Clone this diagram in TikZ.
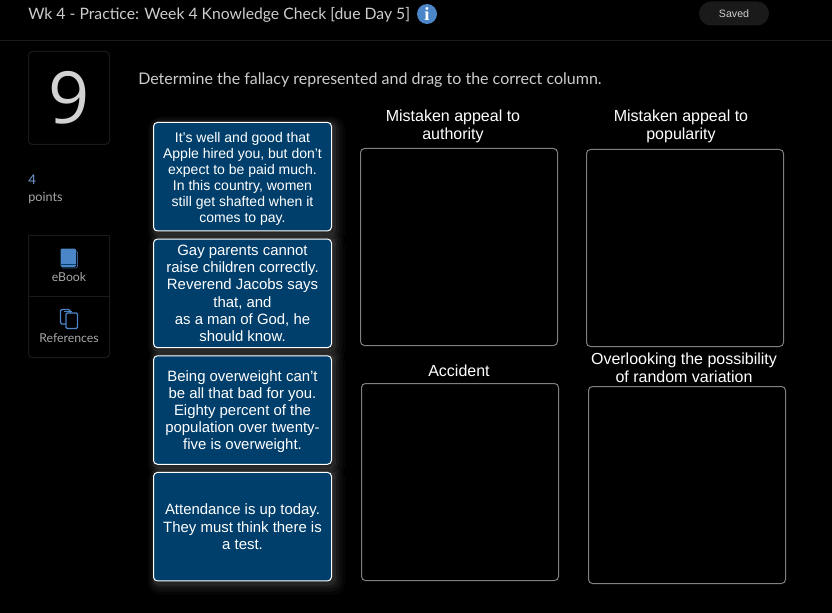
\documentclass[tikz,border=0pt]{standalone}
\usepackage{fontspec}
\setmainfont{Liberation Sans}
\newfontfamily\uifont{Lato}
\newfontfamily\numfont{Open Sans}
\newfontfamily\infofont{Liberation Serif}
\usetikzlibrary{positioning}

\definecolor{cardblue}{HTML}{003F6B}
\definecolor{iconblue}{HTML}{4A86C8}
\definecolor{linegrey}{HTML}{1A1A1A}
\definecolor{uitext}{HTML}{CDCDCD}
\definecolor{sidetext}{HTML}{A8A8A8}

\newcommand{\cardtop}{\rule{0pt}{11pt}}

\tikzstyle{glow} = [preaction={draw=white,draw opacity=.025,line width=15pt,transform canvas={shift={(3pt,-3pt)}}},
  preaction={draw=white,draw opacity=.035,line width=11pt,transform canvas={shift={(2.5pt,-2.5pt)}}},
  preaction={draw=white,draw opacity=.045,line width=7pt,transform canvas={shift={(2pt,-2pt)}}},
  preaction={draw=white,draw opacity=.06,line width=4pt,transform canvas={shift={(1.5pt,-1.5pt)}}}]
\tikzstyle{card} = [rectangle, rounded corners=3pt, minimum width=133.5pt, minimum height=81.4pt, inner sep=0pt, draw=white, line width=.75pt, fill=cardblue, text=white, align=center, glow, font=\fontsize{11.2}{12.8}\selectfont]
\tikzstyle{dropbox} = [rectangle, rounded corners=3pt, minimum width=147.75pt, minimum height=147.75pt, inner sep=0pt, draw=gray, line width=.75pt]
\tikzstyle{heading} = [text=white, align=center, inner sep=0pt, font=\fontsize{12}{13.5}\selectfont]
\tikzstyle{uilabel} = [inner sep=0pt, text=uitext, font=\uifont]
\tikzstyle{sidelabel} = [uilabel, text=sidetext, font=\uifont\fontsize{9.2}{11}\selectfont]

\begin{document}
\begin{tikzpicture}[x=.75pt,y=-.75pt,node distance=87.5pt]
\useasboundingbox (0,0) rectangle (832,613);
\fill[black] (0,0) rectangle (832,613);

% Header
\draw[linegrey,line width=.75pt] (0,40.5) -- (832,40.5);
\node (title) [uilabel, anchor=base west, font=\uifont\fontsize{11.8}{14}\selectfont] at (28,20) {Wk 4 - Practice: Week 4 Knowledge Check [due Day 5]};
\node (info) [circle, fill=iconblue, minimum size=15pt, inner sep=0pt, text=white, font=\infofont\bfseries\fontsize{14}{14}\selectfont] at (427,14) {i};
\node (saved) [rectangle, rounded corners=9pt, fill=linegrey, minimum width=52.5pt, minimum height=18pt, inner sep=0pt, text=uitext, font=\fontsize{8}{10}\selectfont] at (734,13.5) {Saved};

% Question number and side panel
\node (number) [rectangle, rounded corners=3pt, inner sep=0pt, draw=linegrey, line width=.75pt, minimum width=60.75pt, minimum height=69.75pt, text=uitext!90!white, font=\numfont\fontsize{54}{54}\selectfont] at (69,98) {9};
\node (pointsnum) [uilabel, anchor=base west, text=iconblue!80!white, font=\uifont\fontsize{10}{12}\selectfont] at (28,185) {4};
\node (points) [sidelabel, anchor=base west, font=\uifont\fontsize{9.5}{12}\selectfont] at (28,202) {points};
\draw[linegrey,line width=.75pt,rounded corners=3pt] (28.5,235.5) -- (28.5,357.5) -- (109.5,357.5) -- (109.5,235.5);
\draw[linegrey,line width=.75pt] (28.5,235.5) -- (109.5,235.5);
\draw[linegrey,line width=.75pt] (28.5,296.5) -- (109.5,296.5);
\node (ebook) [sidelabel] at (69,277) {eBook};
\node (references) [sidelabel] at (69,338) {References};

% Icons
\draw[iconblue!70!black,line width=.6pt,rounded corners=1pt] (75,251) -- (77.5,251) -- (77.5,268) -- (62,268);
\fill[iconblue,rounded corners=1pt] (60.5,248.5) rectangle (76,267);
\draw[cardblue,line width=.6pt] (60.5,264) -- (76,264);
\draw[iconblue,line width=.9pt,rounded corners=1pt] (66,324) -- (60.5,324) -- (60.5,309.5) -- (70,309.5) -- (70,313);
\draw[iconblue,line width=.9pt,rounded corners=1pt] (66,313) rectangle (77.5,328.5);
\draw[iconblue,line width=.9pt] (63.5,311.5) -- (72,311.5);

% Instruction
\node (prompt) [uilabel, anchor=base west, font=\uifont\fontsize{12}{14}\selectfont] at (138,85) {Determine the fallacy represented and drag to the correct column.};

% Cards
\node (overpaid) [card, font=\fontsize{10.5}{12}\selectfont] at (242.5,176.7) {\cardtop It’s well and good that\\Apple hired you, but don’t\\expect to be paid much.\\In this country, women\\still get shafted when it\\comes to pay.};
\node (parents) [card, below of=overpaid] {Gay parents cannot\\raise children correctly.\\Reverend Jacobs says\\that, and\\as a man of God, he\\should know.};
\node (overweight) [card, below of=parents] {\cardtop Being overweight can’t\\be all that bad for you.\\Eighty percent of the\\population over twenty-\\five is overweight.};
\node (attendance) [card, below of=overweight] {Attendance is up today.\\They must think there is\\a test.};

% Columns
\node (authority) [dropbox] at (459,247) {};
\node (popularity) [dropbox] at (685,248) {};
\node (accident) [dropbox] at (460,482) {};
\node (variation) [dropbox] at (687,485) {};
\node (authoritylabel) [heading] at (453,126) {Mistaken appeal to\\authority};
\node (popularitylabel) [heading] at (681,126) {Mistaken appeal to\\popularity};
\node (accidentlabel) [heading] at (459,370.5) {Accident};
\node (variationlabel) [heading] at (684,367.5) {Overlooking the possibility\\of random variation};

\end{tikzpicture}
\end{document}
